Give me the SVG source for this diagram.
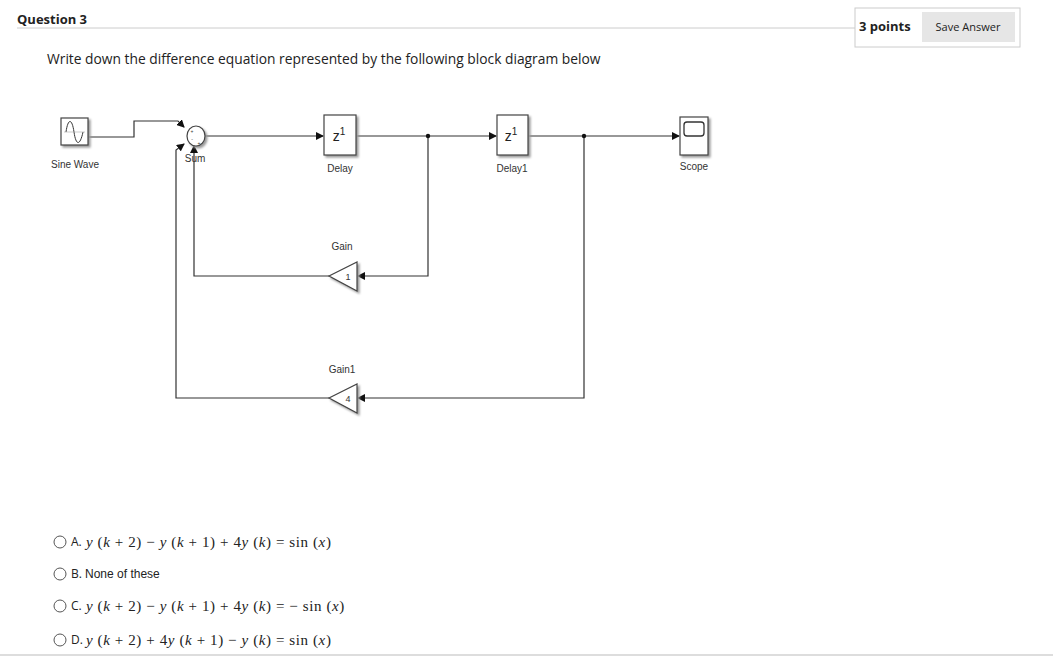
<svg xmlns="http://www.w3.org/2000/svg" width="1053" height="657" viewBox="0 0 1053 657">
<defs>
<marker id="ar" markerWidth="8" markerHeight="8" refX="7" refY="4" orient="auto" markerUnits="userSpaceOnUse"><path d="M0,0 L8,4 L0,8 z" fill="#111"/></marker>
</defs>
<style>
.t{font-family:"Open Sans","Liberation Sans",sans-serif;fill:#222}
.s{font-family:"Liberation Sans",Arial,sans-serif;font-size:10px;fill:#333;text-anchor:middle}
.z{font-family:"Liberation Sans",Arial,sans-serif;font-size:14px;fill:#222;text-anchor:middle}
.m{font-family:"Liberation Serif",serif;font-size:15px;fill:#222;letter-spacing:0.6px}
.blk{fill:#fff;stroke:#444;stroke-width:1.2;filter:drop-shadow(2px 2px 1px #999)}
.w{fill:none;stroke:#333;stroke-width:1.2}
.rad{fill:#fff;stroke:#555;stroke-width:1}
</style>
<rect width="1053" height="657" fill="#fff"/>
<text class="t" x="17" y="24" font-size="13" font-weight="bold">Question 3</text>
<line x1="17" y1="28" x2="856" y2="28" stroke="#ccc"/>
<rect x="855" y="8" width="165" height="39" fill="#fff" stroke="#ccc"/>
<text class="t" x="859" y="31" font-size="13" font-weight="bold">3 points</text>
<rect x="922" y="12" width="93" height="30" fill="#e6e6e6"/>
<text class="t" x="968" y="31" font-size="11" text-anchor="middle" fill="#444">Save Answer</text>
<text class="t" x="47" y="64" font-size="13.8">Write down the difference equation represented by the following block diagram below</text>

<g id="connectors">
<path class="w" d="M88,137 H134 V121 H178 L184,127" marker-end="url(#ar)"/>
<path class="w" d="M205,136 H323" marker-end="url(#ar)"/>
<path class="w" d="M357,136 H496" marker-end="url(#ar)"/>
<path class="w" d="M528,136 H679" marker-end="url(#ar)"/>
<path class="w" d="M428,136 V276 H358" marker-end="url(#ar)"/>
<path class="w" d="M329,276 H194 V146" marker-end="url(#ar)"/>
<path class="w" d="M584,136 V398 H358" marker-end="url(#ar)"/>
<path class="w" d="M329,398 H176 V150 L184,144" marker-end="url(#ar)"/>
<circle cx="428" cy="136" r="2.2" fill="#111"/>
<circle cx="584" cy="136" r="2.2" fill="#111"/>
</g>

<g id="sine">
<rect class="blk" x="61" y="118" width="27" height="27"/>
<path d="M66,132 C68,118 72,118 74,132 S80,146 83,132" fill="none" stroke="#333"/>
<line x1="64" y1="132" x2="85" y2="132" stroke="#aaa" stroke-width="0.6"/>
<text class="s" x="75" y="168">Sine Wave</text>
</g>
<g id="sum">
<ellipse class="blk" cx="196" cy="136" rx="9" ry="10"/>
<text class="s" x="192" y="133" style="font-size:5px">+</text>
<text class="s" x="192" y="141" style="font-size:5px">-</text>
<text class="s" x="199" y="145" style="font-size:5px">+</text>
<text class="s" x="195" y="162">Sum</text>
</g>
<g id="delay">
<rect class="blk" x="324" y="115" width="32" height="40"/>
<text class="z" x="339" y="141">z<tspan dy="-6" style="font-size:10px">1</tspan></text>
<text class="s" x="340" y="172">Delay</text>
</g>
<g id="delay1">
<rect class="blk" x="497" y="115" width="31" height="40"/>
<text class="z" x="511" y="141">z<tspan dy="-6" style="font-size:10px">1</tspan></text>
<text class="s" x="512" y="172">Delay1</text>
</g>
<g id="scope">
<rect class="blk" x="680" y="117" width="28" height="38"/>
<rect x="684" y="122" width="20" height="14" rx="3" fill="#fff" stroke="#333" stroke-width="1.3"/>
<text class="s" x="694" y="170">Scope</text>
</g>
<g id="gain">
<path class="blk" d="M357,262 V291 L329,276 z"/>
<text class="s" x="348" y="280" style="font-size:9px">1</text>
<text class="s" x="342" y="250">Gain</text>
</g>
<g id="gain1">
<path class="blk" d="M357,384 V413 L329,398 z"/>
<text class="s" x="348" y="402" style="font-size:9px">4</text>
<text class="s" x="342" y="373">Gain1</text>
</g>

<g id="options">
<circle class="rad" cx="60" cy="542" r="6"/>
<text class="t" x="71" y="546" font-size="12">A.</text>
<text class="m" x="86" y="547"><tspan font-style="italic">y</tspan> (<tspan font-style="italic">k</tspan> + 2) − <tspan font-style="italic">y</tspan> (<tspan font-style="italic">k</tspan> + 1) + 4<tspan font-style="italic">y</tspan> (<tspan font-style="italic">k</tspan>) = sin (<tspan font-style="italic">x</tspan>)</text>
<circle class="rad" cx="60" cy="574" r="6"/>
<text class="t" x="71" y="578" font-size="12">B. <tspan font-family="Liberation Sans,sans-serif">None of these</tspan></text>
<circle class="rad" cx="60" cy="606" r="6"/>
<text class="t" x="71" y="610" font-size="12">C.</text>
<text class="m" x="86" y="611"><tspan font-style="italic">y</tspan> (<tspan font-style="italic">k</tspan> + 2) − <tspan font-style="italic">y</tspan> (<tspan font-style="italic">k</tspan> + 1) + 4<tspan font-style="italic">y</tspan> (<tspan font-style="italic">k</tspan>) = − sin (<tspan font-style="italic">x</tspan>)</text>
<circle class="rad" cx="60" cy="640" r="6"/>
<text class="t" x="71" y="644" font-size="12">D.</text>
<text class="m" x="86" y="645"><tspan font-style="italic">y</tspan> (<tspan font-style="italic">k</tspan> + 2) + 4<tspan font-style="italic">y</tspan> (<tspan font-style="italic">k</tspan> + 1) − <tspan font-style="italic">y</tspan> (<tspan font-style="italic">k</tspan>) = sin (<tspan font-style="italic">x</tspan>)</text>
</g>
<line x1="0" y1="655" x2="1053" y2="655" stroke="#ddd" stroke-width="2"/>
</svg>
